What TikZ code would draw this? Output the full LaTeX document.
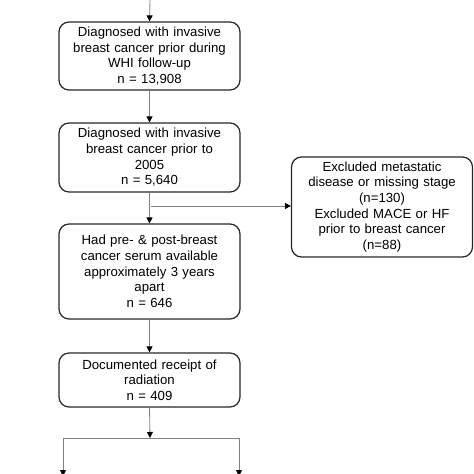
\documentclass[tikz,border=0pt]{standalone}
\usepackage{fontspec}
\setmainfont{Liberation Sans}
\usetikzlibrary{arrows.meta}
\begin{document}
\begin{tikzpicture}[x=1pt,y=1pt,
  box/.style={draw=black!85, line width=1.2pt, rounded corners=10pt, minimum width=181pt, text width=178pt, align=center, inner sep=0pt, font=\fontsize{13.2}{15.7}\selectfont, text=black},
  conn/.style={draw=black!50, line width=0.8pt, -{Triangle[length=6pt,width=6pt,fill=black,color=black]}},
  plain/.style={draw=black!50, line width=0.8pt}]
\useasboundingbox (0,0) rectangle (474,-474);
\coordinate (top) at (150,0);
\node[box, minimum height=68pt] (b1) at (149.5,-56) {Diagnosed with invasive\\breast cancer prior during\\WHI follow-up\\n = 13,908};
\node[box, minimum height=69pt] (b2) at (149.5,-157.5) {Diagnosed with invasive\\breast cancer prior to\\2005\\n = 5,640};
\node[box, minimum height=95pt] (b3) at (149.5,-271.5) {Had pre- \& post-breast\\cancer serum available\\approximately 3 years\\apart\\n = 646};
\node[box, minimum height=54pt] (b4) at (149.5,-380) {Documented receipt of\\radiation\\n = 409};
\node[box, minimum width=181pt, minimum height=100pt] (side) at (382,-207) {Excluded metastatic\\disease or missing stage\\(n=130)\\Excluded MACE or HF\\prior to breast cancer\\(n=88)};
\coordinate (j1) at (151,-206);
\coordinate (j2) at (150,-438);
\coordinate (jl) at (63,-438);
\coordinate (jr) at (239,-438);
\coordinate (el) at (63,-474);
\coordinate (er) at (239,-474);
\draw[conn] (top) -- (b1.north);
\draw[conn] (b1.south) -- (b2.north);
\draw[conn] (b2.south) -- (b3.north);
\draw[conn] (j1) -- (j1 -| side.west);
\draw[conn] (b3.south) -- (b4.north);
\draw[conn] (b4.south) -- (j2);
\draw[plain] (jl) -- (jr);
\draw[conn] (jl) -- ([yshift=-2pt]el);
\draw[conn] (jr) -- ([yshift=-2pt]er);
\end{tikzpicture}
\end{document}
